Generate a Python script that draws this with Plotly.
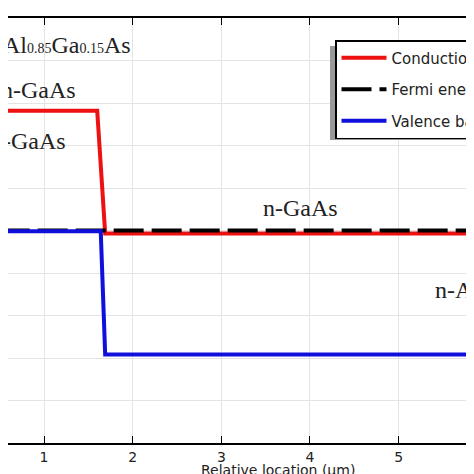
import plotly.graph_objects as go

# band edges (eV relative to Fermi level) vs relative location (um)
x_cb = [0.5, 1.6, 1.69, 6.0]
conduction = [2.82, 2.82, -0.07, -0.07]
x_fermi = [0.5, 6.0]
fermi = [0.0, 0.0]
x_vb = [0.5, 1.64, 1.69, 6.0]
valence = [-0.02, -0.02, -2.92, -2.92]

fig = go.Figure()
fig.add_trace(go.Scatter(x=x_cb, y=conduction, mode="lines", name="Conduction band",
                         legendgroup="a", line=dict(color="#ee1111", width=4)))
fig.add_trace(go.Scatter(x=x_fermi, y=fermi, mode="lines", name="Fermi energy level",
                         legendgroup="b", line=dict(color="black", width=4, dash="30px,8px")))
fig.add_trace(go.Scatter(x=x_vb, y=valence, mode="lines", name="Valence band",
                         legendgroup="c", line=dict(color="#1010dd", width=4)))

sub = "<span style='font-size:14px'>{}</span>"
alga = "Al" + sub.format("0.85") + "Ga" + sub.format("0.15") + "As"
serif = dict(family="Liberation Serif", size=24, color="#222")
labels = [
    (125, 37, "right", "p-" + alga),
    (70, 82, "right", "n-GaAs"),
    (60, 133, "right", "n-GaAs"),
    (253, 200, "left", "n-GaAs"),
    (425, 282, "left", "n-" + alga),
]
for px, py, anchor, txt in labels:
    fig.add_annotation(x=px / 474, y=1 - (py - 10) / 425, xref="paper", yref="paper",
                       xanchor=anchor, yanchor="middle", text=txt, showarrow=False, font=serif)

fig.add_annotation(x=270 / 474, y=-0.064, xref="paper", yref="paper", yanchor="middle",
                   text="Relative location (µm)", showarrow=False,
                   font=dict(family="DejaVu Sans", size=14, color="#222"))

# legend shadow
fig.add_shape(type="rect", xref="paper", yref="paper", x0=322 / 474, x1=1.2,
              y0=1 - (132 - 10) / 425, y1=1 - (38 - 10) / 425,
              fillcolor="#999", line=dict(width=0), layer="above")

fig.update_layout(
    width=474, height=474,
    margin=dict(l=0, r=0, t=10, b=39, autoexpand=False),
    plot_bgcolor="white", paper_bgcolor="white",
    showlegend=True,
    legend=dict(x=327 / 474, y=1 - (32 - 10) / 425, xanchor="left", yanchor="top",
                bgcolor="white", bordercolor="black", borderwidth=1.5,
                font=dict(family="DejaVu Sans", size=15, color="#222"),
                tracegroupgap=9, itemwidth=45),
    xaxis=dict(range=[0.594, 5.94], tickvals=[1, 2, 3, 4, 5], showgrid=True,
               gridcolor="#e4e4e4", ticks="inside", ticklen=7, tickcolor="black",
               showline=True, linecolor="black", linewidth=1.5, mirror="ticks",
               zeroline=False, tickfont=dict(family="DejaVu Sans", size=14, color="#222")),
    yaxis=dict(range=[-5, 5], dtick=1, showgrid=True, gridcolor="#e4e4e4",
               showticklabels=False, showline=True, linecolor="black", linewidth=1.5,
               mirror=True, zeroline=False),
)

fig.write_html("out.html")
